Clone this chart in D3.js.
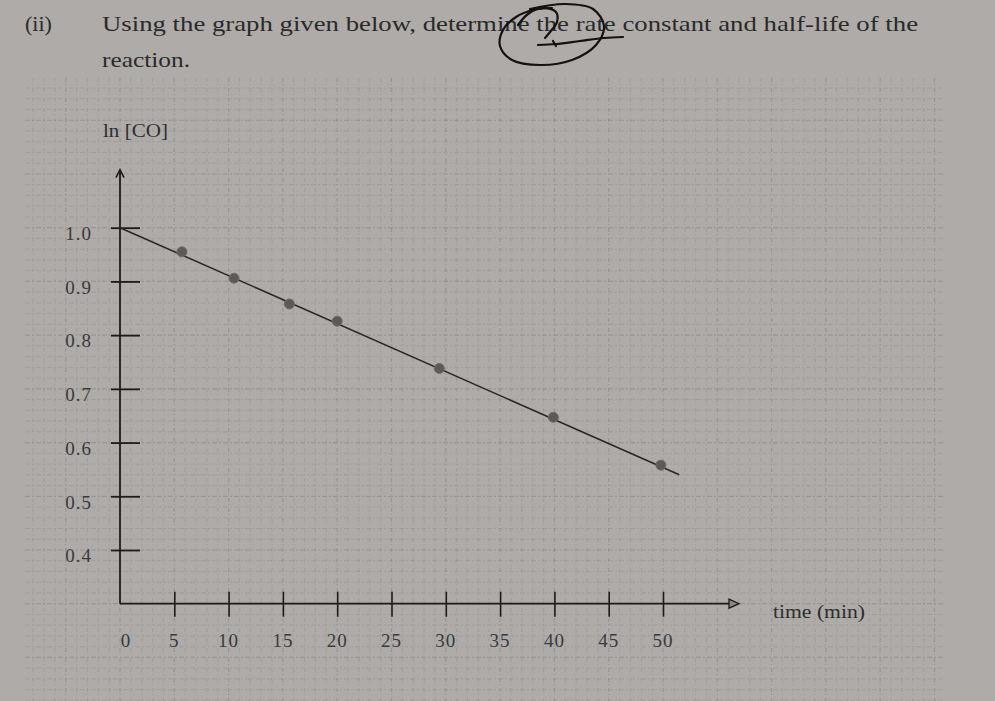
<!DOCTYPE html>
<html>
<head>
<meta charset="utf-8">
<script src="https://cdn.jsdelivr.net/npm/d3@7"></script>
<style>
  html, body { margin: 0; padding: 0; background: #aeaba9; }
  svg { display: block; }
  text { font-family: "Liberation Serif", "DejaVu Serif", serif; }
</style>
</head>
<body>
<svg id="chart" width="995" height="701"></svg>
<script>
// ---- data ----
const times = [5.7, 10.5, 15.6, 20.0, 29.4, 39.9, 49.8];          // time (min)
const lnCO  = [0.955, 0.906, 0.858, 0.826, 0.738, 0.647, 0.558];  // ln [CO]
const fitT  = [0, 51.5];       // drawn best-fit line, time ends
const fitLn = [1.0, 0.54];     // drawn best-fit line, ln[CO] ends
const xTickValues = [5, 10, 15, 20, 25, 30, 35, 40, 45, 50];
const xTickLabels = ["0", "5", "10", "15", "20", "25", "30", "35", "40", "45", "50"];
const xLabelValues = [0, 5, 10, 15, 20, 25, 30, 35, 40, 45, 50];
const yTickValues = [0.4, 0.5, 0.6, 0.7, 0.8, 0.9, 1.0];
const yTickLabels = ["0.4", "0.5", "0.6", "0.7", "0.8", "0.9", "1.0"];
const questionNo = "(ii)";
const questionLine1 = "Using the graph given below, determine the rate constant and half-life of the";
const questionLine2 = "reaction.";
const yAxisTitle = "ln [CO]";
const xAxisTitle = "time (min)";

// ---- scales ----
const x = d3.scaleLinear().domain([0, 50]).range([120, 663]);
const y = d3.scaleLinear().domain([0.4, 1.0]).range([550, 227.7]);
const xAxisLevel = 0.3;     // x-axis drawn at ln[CO] = 0.3
const yAxisTop = 1.108;     // y-axis arrow tip
const xAxisEnd = 57.0;      // x-axis arrow tip

const svg = d3.select("#chart");

// paper
svg.append("rect").attr("width", 995).attr("height", 701).attr("fill", "#aeaba9");

// graph-paper grid
const grid = svg.append("g").attr("class", "grid");
const gx0 = 25, gx1 = 945, gy0 = 78, gy1 = 701;
const minorX = d3.range(Math.ceil(x.invert(gx0)), x.invert(gx1), 1);
const minorY = d3.range(Math.ceil(y.invert(gy1) / 0.02) * 0.02, y.invert(gy0), 0.02);
grid.selectAll("line.vx").data(minorX).join("line")
  .attr("x1", d => x(d)).attr("x2", d => x(d))
  .attr("y1", gy0).attr("y2", gy1)
  .attr("stroke", "#8c8987")
  .attr("stroke-width", d => (Math.round(d) % 5 === 0) ? 1.2 : 0.9)
  .attr("stroke-opacity", d => (Math.round(d) % 5 === 0) ? 0.6 : 0.42)
  .attr("stroke-dasharray", "4,2,1,3");
grid.selectAll("line.hy").data(minorY).join("line")
  .attr("y1", d => y(d)).attr("y2", d => y(d))
  .attr("x1", gx0).attr("x2", gx1)
  .attr("stroke", "#8c8987")
  .attr("stroke-width", d => (Math.round(d * 50) % 5 === 0) ? 1.2 : 0.9)
  .attr("stroke-opacity", d => (Math.round(d * 50) % 5 === 0) ? 0.6 : 0.42)
  .attr("stroke-dasharray", "5,2,2,2");

// question text
svg.append("text").attr("x", 25).attr("y", 31)
  .attr("font-size", 22).attr("fill", "#2a2a2a").text(questionNo);
svg.append("text").attr("x", 102).attr("y", 31)
  .attr("font-size", 22).attr("fill", "#2a2a2a")
  .attr("textLength", 816).attr("lengthAdjust", "spacingAndGlyphs")
  .text(questionLine1);
svg.append("text").attr("x", 102).attr("y", 67)
  .attr("font-size", 22).attr("fill", "#2a2a2a")
  .attr("textLength", 88).attr("lengthAdjust", "spacingAndGlyphs")
  .text(questionLine2);

// hand-drawn circle, question mark hook and underline
const hand = svg.append("g").attr("fill", "none").attr("stroke", "#141210")
  .attr("stroke-width", 2.2).attr("stroke-linecap", "round");
const penLine = d3.line().curve(d3.curveCatmullRom.alpha(0.5));
hand.append("path").attr("d", penLine([
  [530, 9], [565, 4], [593, 9], [604, 26], [596, 45], [572, 60],
  [540, 65], [512, 60], [500, 46], [503, 30], [516, 17], [533, 10], [552, 8]
]));
hand.append("path").attr("d", penLine([
  [518, 25], [528, 14], [543, 8], [556, 12], [557, 22], [550, 32], [545, 38]
]));
hand.append("path").attr("d", penLine([
  [538, 45], [556, 44], [580, 41], [604, 38], [623, 37]
]));
hand.append("path").attr("d", penLine([[553, 41], [556, 46]]));

// y-axis title
svg.append("text").attr("x", 103).attr("y", 137)
  .attr("font-size", 19).attr("fill", "#2e2e2e")
  .attr("textLength", 65).attr("lengthAdjust", "spacingAndGlyphs")
  .text(yAxisTitle);

// x-axis title
svg.append("text").attr("x", 773).attr("y", 618)
  .attr("font-size", 19).attr("fill", "#2e2e2e")
  .attr("textLength", 92).attr("lengthAdjust", "spacingAndGlyphs")
  .text(xAxisTitle);

const axisColor = "#1c1c1c";

// y axis (ticks crossing the axis line)
const yAxis = d3.axisLeft(y).tickValues(yTickValues)
  .tickFormat((d, i) => yTickLabels[i]).tickSize(0).tickPadding(0);
const gy = svg.append("g").attr("transform", `translate(${x(0)},0)`).call(yAxis);
gy.select(".domain").remove();
gy.selectAll(".tick line")
  .attr("x1", -9).attr("x2", 20)
  .attr("stroke", axisColor).attr("stroke-width", 1.8);
gy.selectAll(".tick text")
  .attr("x", -28).attr("dy", "0.62em")
  .attr("font-family", "Liberation Serif, serif")
  .attr("font-size", 19).attr("letter-spacing", 1)
  .attr("fill", "#3a3a3a");

// x axis
const xAxis = d3.axisBottom(x).tickValues(xTickValues).tickFormat("").tickSize(0);
const gxA = svg.append("g").attr("transform", `translate(0,${y(xAxisLevel)})`).call(xAxis);
gxA.select(".domain").remove();
gxA.selectAll(".tick line")
  .attr("y1", -12).attr("y2", 13)
  .attr("stroke", axisColor).attr("stroke-width", 1.6);

// x tick labels
svg.append("g").selectAll("text").data(xLabelValues).join("text")
  .attr("x", d => x(d) + (d === 0 ? 6 : 0))
  .attr("y", y(xAxisLevel) + 43)
  .attr("text-anchor", "middle")
  .attr("font-size", 19).attr("letter-spacing", 1)
  .attr("fill", "#3a3a3a")
  .text((d, i) => xTickLabels[i]);

// axis lines
svg.append("line")
  .attr("x1", x(0)).attr("x2", x(0))
  .attr("y1", y(xAxisLevel)).attr("y2", y(yAxisTop))
  .attr("stroke", axisColor).attr("stroke-width", 1.8);
svg.append("line")
  .attr("x1", x(0)).attr("x2", x(xAxisEnd) - 8)
  .attr("y1", y(xAxisLevel)).attr("y2", y(xAxisLevel))
  .attr("stroke", axisColor).attr("stroke-width", 1.8);

// arrow heads
const yt = [x(0), y(yAxisTop)];
svg.append("path")
  .attr("d", `M${yt[0] - 4},${yt[1] + 8} L${yt[0]},${yt[1]} L${yt[0] + 4},${yt[1] + 8}`)
  .attr("fill", "none").attr("stroke", axisColor).attr("stroke-width", 1.6);
const xt = [x(xAxisEnd), y(xAxisLevel)];
svg.append("path")
  .attr("d", `M${xt[0] - 10},${xt[1] - 4.5} L${xt[0]},${xt[1]} L${xt[0] - 10},${xt[1] + 4.5} Z`)
  .attr("fill", "#8a8785").attr("stroke", axisColor).attr("stroke-width", 1.3);

// best-fit line
const lineGen = d3.line().x(d => x(d[0])).y(d => y(d[1]));
svg.append("path")
  .datum(fitT.map((t, i) => [t, fitLn[i]]))
  .attr("d", lineGen)
  .attr("fill", "none").attr("stroke", "#262626").attr("stroke-width", 1.5);

// data points
svg.append("g").selectAll("circle").data(times.map((t, i) => [t, lnCO[i]])).join("circle")
  .attr("cx", d => x(d[0])).attr("cy", d => y(d[1]))
  .attr("r", 5)
  .attr("fill", "#5c5a59").attr("stroke", "#6e6c6b").attr("stroke-width", 1);
</script>
</body>
</html>
